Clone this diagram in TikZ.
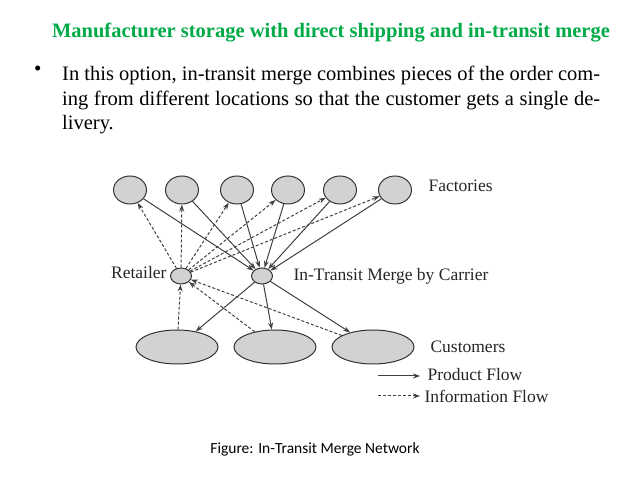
\documentclass[tikz,border=0pt]{standalone}
\usepackage{fontspec}
\setmainfont{Liberation Serif}
\newfontfamily\capfont{Carlito}
\usetikzlibrary{arrows.meta,shapes.geometric}
\definecolor{titlegreen}{RGB}{0,170,70}
\definecolor{nodegray}{RGB}{210,210,210}
\begin{document}
\begin{tikzpicture}[x=1pt,y=-1pt,
  nd/.style={ellipse,draw=black!80,fill=nodegray,line width=1pt,inner sep=0pt},
  fac/.style={nd,minimum width=33pt,minimum height=28pt},
  cus/.style={nd,minimum width=82pt,minimum height=34pt},
  hub/.style={nd,minimum width=21pt,minimum height=16pt},
  prod/.style={draw=black!75,line width=1pt,-{Stealth[length=7pt,width=5pt]}},
  info/.style={draw=black!75,line width=1pt,dash pattern=on 3pt off 2pt,-{Stealth[length=7pt,width=5pt]}},
  lbl/.style={font=\fontsize{17.5}{20}\selectfont,text=black!85}]
\useasboundingbox (0,0) rectangle (638,478);
\node[font=\bfseries\fontsize{20.5}{24}\selectfont,text=titlegreen] (title) at (331,33) {Manufacturer storage with direct shipping and in-transit merge};
\node[anchor=north west,inner sep=0pt] (bul) at (34,66) {\fontsize{21}{24.5}\selectfont\textbullet};
\node[anchor=north west,inner sep=0pt,text width=538pt,align=justify,font=\fontsize{20.5}{24.5}\selectfont] (body) at (62,66) {\hyphenpenalty=10000 In this option, in-transit merge combines pieces of the order coming from different locations so that the customer gets a single delivery.};
\foreach \i/\x in {1/130,2/182,3/237,4/288,5/340,6/395} \node[fac] (f\i) at (\x,190) {};
\node[hub] (r) at (181,276) {};
\node[hub] (m) at (262,276) {};
\node[cus] (c1) at (177,347) {};
\node[cus] (c2) at (275,347) {};
\node[cus] (c3) at (373,347) {};
\node[lbl,anchor=west] (lf) at (425,186) {Factories};
\node[lbl,anchor=east] (lr) at (170,273) {Retailer};
\node[lbl,anchor=west] (lm) at (290,276) {In-Transit Merge by Carrier};
\node[lbl,anchor=west] (lc) at (427,347) {Customers};
\foreach \i in {1,...,6} {
  \draw[prod] (f\i) -- (m);
  \draw[info] (r) -- (f\i);
}
\foreach \i in {1,2,3} {
  \draw[prod] (m) -- (c\i);
  \draw[info] (c\i) -- (r);
}
\coordinate (p1) at (378,376); \coordinate (p2) at (420,376);
\coordinate (q1) at (378,396); \coordinate (q2) at (420,396);
\draw[prod] (p1) -- (p2);
\draw[info] (q1) -- (q2);
\node[lbl,anchor=west] (lp) at (424,375) {Product Flow};
\node[lbl,anchor=west] (li) at (421,396) {Information Flow};
\node[font=\capfont\fontsize{15.5}{18}\selectfont] (cap) at (315,449) {Figure: In-Transit Merge Network};
\end{tikzpicture}
\end{document}
